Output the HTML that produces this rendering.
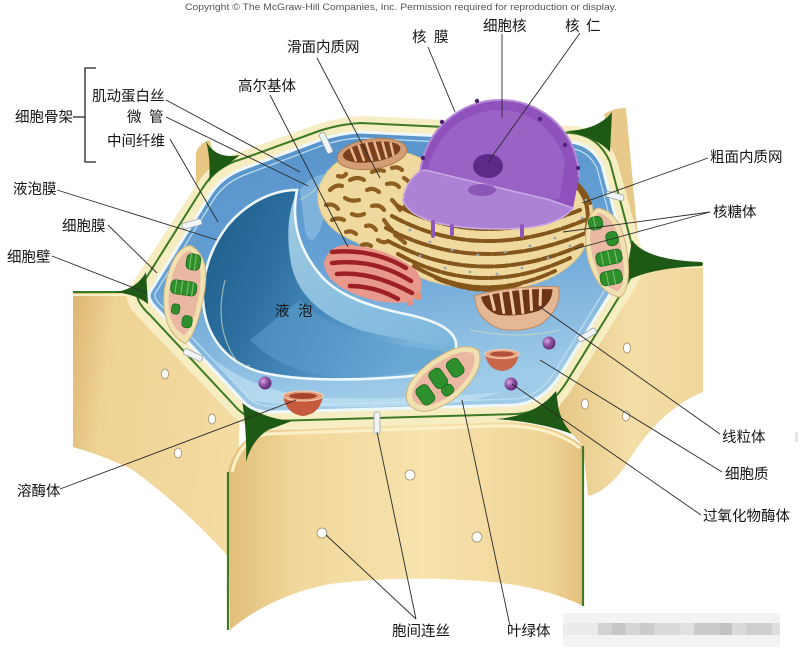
<!DOCTYPE html>
<html><head><meta charset="utf-8">
<style>
html,body{margin:0;padding:0;background:#fff;}
svg{display:block;}
text{font-family:"Liberation Sans","Noto Sans CJK SC",sans-serif;}
.l{font-size:14.5px;fill:#151515;}
.ln{stroke:#2a2a2a;stroke-width:0.9;fill:none;}
.er{fill:none;stroke:#85561c;stroke-width:4;stroke-linecap:round;}
.ser{fill:none;stroke:#8f5f22;stroke-width:4.2;stroke-linecap:round;}
.gol{fill:none;stroke:#9e1f24;stroke-width:4.5;stroke-linecap:round;}
.hole{fill:#fff;stroke:#a08c68;stroke-width:0.8;}
.pd{fill:#f2f5f7;stroke:#9aa6ad;stroke-width:0.8;}
</style></head><body>
<svg width="800" height="664" viewBox="0 0 800 664" xmlns="http://www.w3.org/2000/svg">
<defs>
<linearGradient id="tanF" x1="0" x2="1" y1="0" y2="0">
 <stop offset="0" stop-color="#e2be79"/><stop offset="0.2" stop-color="#f1d89c"/><stop offset="0.55" stop-color="#f7e3ad"/><stop offset="0.9" stop-color="#f0d497"/><stop offset="1" stop-color="#e3c07c"/>
</linearGradient>
<linearGradient id="tanL" x1="0" x2="1" y1="0" y2="0.2">
 <stop offset="0" stop-color="#ddb672"/><stop offset="0.25" stop-color="#efd395"/><stop offset="1" stop-color="#f3dba2"/>
</linearGradient>
<linearGradient id="tanR" x1="0" x2="1">
 <stop offset="0" stop-color="#e6c585"/><stop offset="0.5" stop-color="#f4dea6"/><stop offset="1" stop-color="#f0d79c"/>
</linearGradient>
<linearGradient id="cyto" x1="0" y1="0" x2="0.25" y2="1">
 <stop offset="0" stop-color="#5591c7"/><stop offset="0.5" stop-color="#64a0d4"/><stop offset="1" stop-color="#9fcbe8"/>
</linearGradient>
<linearGradient id="vac" x1="0" y1="0" x2="1" y2="0.35">
 <stop offset="0" stop-color="#1c5a88"/><stop offset="0.35" stop-color="#2c6f9f"/><stop offset="0.7" stop-color="#4f92c3"/><stop offset="1" stop-color="#78b3da"/>
</linearGradient>
<linearGradient id="vacL" x1="0" y1="0" x2="1" y2="1">
 <stop offset="0" stop-color="#bfe2f3"/><stop offset="1" stop-color="#7ab5dc"/>
</linearGradient>
<radialGradient id="per" cx="0.35" cy="0.35" r="0.7">
 <stop offset="0" stop-color="#d6a8e0"/><stop offset="0.5" stop-color="#8e4fa3"/><stop offset="1" stop-color="#5d2a70"/>
</radialGradient>
</defs>

<!-- copyright -->
<text x="185" y="10" font-size="9.6" fill="#555" textLength="432" lengthAdjust="spacingAndGlyphs">Copyright © The McGraw-Hill Companies, Inc. Permission required for reproduction or display.</text>

<!-- right wall -->
<path d="M630,264 L703,264 L703,392 Q658,410 624,468 Q606,492 588,496 L583,446 L555,415 Z" fill="url(#tanR)"/>
<!-- top right strip -->
<path d="M604,114 Q614,108 626,108 L638,238 L624,236 Z" fill="#e9c98a"/>
<!-- top left strip -->
<path d="M196,153 Q199,143 210,140 L218,172 L206,199 L196,201 Z" fill="#e8c684"/>
<!-- left wall -->
<path d="M73,293 L140,293 L240,405 L238,472 L228,474 L228,556 Q182,506 133,470 Q102,455 73,447 Z" fill="url(#tanL)"/>
<!-- front wall -->
<path d="M228,472 Q236,438 265,430 L495,422 Q550,420 583,446 L583,606 Q540,585 480,581 Q400,575 330,584 Q270,596 230,630 Z" fill="url(#tanF)"/>
<path d="M228,472 L228,630" stroke="#3d7a23" stroke-width="2.2"/>
<path d="M583,446 L583,606" stroke="#3d7a23" stroke-width="2.2"/>
<path d="M232,472 Q240,440 266,434 L495,426 Q548,424 580,448" fill="none" stroke="#fbf1c8" stroke-width="3"/>

<!-- wall top cream band -->
<path d="M128,290 L196,185 Q212,160 240,152 L318,124 Q340,117 362,116 L572,126 Q604,128 617,160 L641,248 Q646,270 635,288 L576,382 Q556,421 517,422 L272,429 Q244,431 228,411 L142,321 Q122,302 128,290 Z" fill="#f7edc2"/>
<!-- green lamella line -->
<path d="M138,291 L202,189 Q216,166 242,159 L319,131 Q340,124 361,123 L571,133 Q598,135 610,162 L633,249 Q637,268 627,284 L569,378 Q550,412 516,414 L272,421 Q248,422 234,405 L150,315 Q134,300 138,291 Z" fill="none" stroke="#3b7a22" stroke-width="2"/>
<!-- wall edge green lines -->
<path d="M73,292 L135,292" stroke="#3b7a22" stroke-width="2"/>
<path d="M630,264 L703,264" stroke="#3b7a22" stroke-width="2"/>
<path d="M73,295 L136,295" stroke="#fbf1c8" stroke-width="2"/>
<path d="M632,267 L703,267" stroke="#fbf1c8" stroke-width="2"/>

<!-- green corners -->
<path d="M206,141 Q216,160 240,155 L226,166 Q214,172 209,182 Q211,160 206,141 Z" fill="#1e5a16"/>
<path d="M114,292 Q136,290 146,272 L148,304 Q136,294 114,292 Z" fill="#1e5a16"/>
<path d="M242,400 Q258,418 292,421 L268,430 Q252,440 246,462 Q247,430 242,400 Z" fill="#1e5a16"/>
<path d="M496,419 Q536,416 556,391 L558,405 Q560,420 572,434 Q540,422 496,419 Z" fill="#1e5a16"/>
<path d="M632,240 Q645,260 702,262 L702,266 Q648,268 625,282 Z" fill="#1e5a16"/>
<path d="M566,131 Q598,130 612,112 L610,152 Q598,138 566,131 Z" fill="#1e5a16"/>

<!-- holes -->
<g>
<ellipse class="hole" cx="165" cy="374" rx="3.6" ry="5"/>
<ellipse class="hole" cx="212" cy="419" rx="3.6" ry="5"/>
<ellipse class="hole" cx="178" cy="453" rx="3.6" ry="5"/>
<ellipse class="hole" cx="322" cy="533" rx="5" ry="5"/>
<ellipse class="hole" cx="410" cy="475" rx="5" ry="5"/>
<ellipse class="hole" cx="477" cy="537" rx="5" ry="5"/>
<ellipse class="hole" cx="627" cy="348" rx="3.6" ry="5"/>
<ellipse class="hole" cx="585" cy="404" rx="3.6" ry="5"/>
<ellipse class="hole" cx="626" cy="416" rx="3.6" ry="5"/>
</g>

<!-- cytoplasm -->
<path d="M150,292 L210,195 Q222,176 245,168 L320,140 Q340,133 360,132 L570,142 Q592,144 602,165 L624,250 Q628,265 620,278 L562,372 Q545,402 515,405 L272,412 Q252,413 240,398 L158,310 Q146,298 150,292 Z" fill="url(#cyto)" stroke="#eef7fc" stroke-width="3"/>
<path d="M156,292 L214,199 Q225,182 247,174 L321,146 Q340,139 360,138 L569,148 Q588,150 597,168 L618,250 Q621,263 614,275 L557,368 Q541,397 514,399 L273,406 Q255,407 245,394 L163,307 Q152,298 156,292 Z" fill="none" stroke="#bfe0f2" stroke-width="1.2"/>
<!-- light regions in cytoplasm -->
<path d="M215,360 Q260,395 330,398 Q420,400 500,392 Q470,405 400,406 Q300,410 250,400 Z" fill="#c6e4f4" opacity="0.6"/>
<path d="M300,190 Q315,170 335,175 Q330,200 320,230 Q310,250 305,230 Z" fill="#9ccbea" opacity="0.5"/>

<!-- plasmodesmata -->
<g>
<rect class="pd" x="-3" y="-11" width="6" height="22" rx="2" transform="translate(326,143) rotate(-25)"/>
<rect class="pd" x="-3" y="-10" width="6" height="20" rx="2" transform="translate(192,224) rotate(75)"/>
<rect class="pd" x="-3" y="-10" width="6" height="20" rx="2" transform="translate(193,355) rotate(-65)"/>
<rect class="pd" x="-3" y="-11" width="6" height="22" rx="2" transform="translate(377,423) rotate(0)"/>
<rect class="pd" x="-3" y="-9" width="6" height="18" rx="2" transform="translate(615,196) rotate(-75)"/>
<rect class="pd" x="-3" y="-10" width="6" height="20" rx="2" transform="translate(587,335) rotate(60)"/>
</g>

<!-- vacuole -->
<path d="M297,190 C270,190 245,205 228,225 C210,248 202,275 203,300 C205,335 225,362 260,372 C300,382 360,380 400,377 C430,375 452,365 456,348 C458,332 440,322 410,315 C370,307 335,295 318,272 C302,252 290,225 297,190 Z" fill="url(#vac)"/>
<path d="M297,192 C291,225 302,252 318,272 C335,295 370,307 410,315 C440,322 458,332 456,348 C425,343 390,338 360,330 C325,318 300,298 292,268 C286,240 287,212 297,192 Z" fill="url(#vacL)" opacity="0.8"/>
<path d="M300,300 C330,330 380,345 450,352 C440,370 400,376 350,377 C300,376 270,360 250,340 Z" fill="#5e9fcf" opacity="0.55"/>
<path d="M297,190 C270,190 245,205 228,225 C210,248 202,275 203,300 C205,335 225,362 260,372 C300,382 360,380 400,377 C430,375 452,365 456,348 C458,332 440,322 410,315 C370,307 335,295 318,272 C302,252 290,225 297,190 Z" fill="none" stroke="#eef8fd" stroke-width="2.6"/>

<!-- ER region -->
<path d="M318,192 Q325,162 360,151 Q395,146 420,158 L560,190 Q588,186 592,205 Q596,232 580,255 Q560,280 518,288 Q470,293 430,281 Q405,272 388,256 Q362,246 340,234 Q316,218 318,192 Z" fill="#efd99e" stroke="#e3c78a" stroke-width="1"/>
<!-- smooth ER squiggles -->
<g class="ser">
<path d="M330,190 q6,-6 12,-4"/><path d="M350,180 q8,-4 14,0"/><path d="M372,172 q6,-3 12,-1"/><path d="M392,168 q6,-2 10,2"/>
<path d="M326,205 q8,-2 12,4"/><path d="M345,198 q6,4 14,2"/><path d="M367,190 q6,-3 12,2"/><path d="M387,184 q8,-2 12,3"/><path d="M404,178 q5,3 8,8"/>
<path d="M332,220 q6,-3 12,0"/><path d="M352,214 q6,3 12,0"/><path d="M372,206 q8,-2 12,4"/><path d="M392,200 q4,4 8,10"/>
<path d="M346,232 q6,-2 10,2"/><path d="M366,226 q6,-2 10,4"/><path d="M384,220 q4,6 8,10"/>
<path d="M405,195 q2,6 0,12"/><path d="M395,235 q6,4 10,8"/>
<path d="M338,176 q5,2 8,-2"/><path d="M358,166 q6,2 10,-1"/><path d="M378,240 q4,3 8,2"/><path d="M362,245 q5,-2 9,1"/>
</g>
<!-- rough ER arcs -->
<g class="er" stroke-dasharray="13 3">
<path d="M398,206 Q480,250 580,210"/>
<path d="M392,216 Q480,264 585,220"/>
<path d="M386,228 Q480,278 588,232"/>
<path d="M388,241 Q480,290 582,245"/>
<path d="M398,254 Q480,300 570,258"/>
<path d="M414,266 Q480,306 555,271"/>
<path d="M436,278 Q480,298 520,284"/>
<path d="M578,188 Q592,205 586,232"/>
<path d="M570,178 Q584,188 590,203"/>
</g>
<!-- ribosome dots -->
<g fill="#8fa7b9">
<circle cx="410" cy="230" r="1.4"/><circle cx="430" cy="242" r="1.4"/><circle cx="452" cy="250" r="1.4"/><circle cx="478" cy="255" r="1.4"/><circle cx="505" cy="252" r="1.4"/><circle cx="530" cy="246" r="1.4"/><circle cx="555" cy="238" r="1.4"/>
<circle cx="420" cy="256" r="1.4"/><circle cx="445" cy="268" r="1.4"/><circle cx="470" cy="272" r="1.4"/><circle cx="497" cy="274" r="1.4"/><circle cx="522" cy="268" r="1.4"/><circle cx="548" cy="258" r="1.4"/><circle cx="570" cy="246" r="1.4"/>
<circle cx="440" cy="290" r="1.4"/><circle cx="468" cy="292" r="1.4"/><circle cx="495" cy="292" r="1.4"/><circle cx="520" cy="289" r="1.4"/><circle cx="582" cy="218" r="1.4"/><circle cx="586" cy="200" r="1.4"/>
</g>

<!-- nucleus -->
<path d="M420,174 C424,130 460,100 500,100 C546,100 579,136 579,178 L573,208 L550,200 Z" fill="#8f52bd"/>
<path d="M428,170 C435,135 465,110 500,110 C530,110 555,130 565,160 L560,198 L550,200 Z" fill="#9d66c8" opacity="0.8"/>
<path d="M403,200 C405,185 414,172 425,170 L550,200 L573,208 C562,222 540,229 500,229 C450,229 410,221 403,200 Z" fill="#ab82d4" stroke="#c9a9e6" stroke-width="1.5"/>
<path d="M420,174 C424,130 460,100 500,100 C546,100 579,136 579,178" fill="none" stroke="#b58ad8" stroke-width="2"/>
<ellipse cx="488" cy="166" rx="15" ry="12" fill="#5e2a8a"/>
<ellipse cx="482" cy="190" rx="14" ry="6" fill="#7c45aa" opacity="0.7"/>
<g fill="#4e2273">
<circle cx="423" cy="158" r="2.2"/><circle cx="442" cy="122" r="2.2"/><circle cx="477" cy="101" r="2.2"/><circle cx="540" cy="119" r="2.2"/><circle cx="565" cy="145" r="2.2"/><circle cx="578" cy="168" r="2"/>
</g>
<path d="M433,222 L433,236 M522,226 L522,236 M452,226 L452,234" stroke="#8e58bb" stroke-width="4" stroke-linecap="round"/>

<!-- mitochondrion top -->
<g transform="translate(372,154) rotate(-8)">
<ellipse rx="35" ry="15" fill="#d49e74" stroke="#b37a52" stroke-width="1"/>
<ellipse cx="0" cy="-2" rx="29" ry="10" fill="#7a3f1e"/>
<g stroke="#e7b98c" stroke-width="2.5" stroke-linecap="round">
<path d="M-20,-8 L-17,4"/><path d="M-12,-10 L-9,5"/><path d="M-4,-11 L-1,6"/><path d="M4,-11 L7,6"/><path d="M12,-10 L14,5"/><path d="M20,-8 L21,4"/>
</g>
</g>
<!-- mitochondrion lower right -->
<g transform="translate(518,305) rotate(-6)">
<path d="M-42,-14 Q0,-20 42,-14 Q44,8 20,22 Q0,28 -20,22 Q-44,10 -42,-14 Z" fill="#e4b894" stroke="#c28a62" stroke-width="1"/>
<path d="M-36,-12 Q0,-17 36,-12 Q34,2 20,8 Q0,12 -20,8 Q-34,2 -36,-12 Z" fill="#6d3417"/>
<g stroke="#f0c9a3" stroke-width="3" stroke-linecap="round">
<path d="M-26,-13 L-24,2"/><path d="M-16,-14 L-15,6"/><path d="M-6,-15 L-5,8"/><path d="M4,-15 L4,8"/><path d="M14,-14 L13,6"/><path d="M24,-13 L22,2"/>
</g>
</g>

<!-- golgi -->
<path d="M324,262 Q330,243 352,245 Q392,250 416,270 Q430,290 410,302 Q380,306 350,292 Q324,280 324,262 Z" fill="#e8998b"/>
<g class="gol">
<path d="M332,252 Q372,248 406,268"/>
<path d="M332,263 Q374,258 411,281"/>
<path d="M337,274 Q372,271 412,293"/>
<path d="M350,286 Q375,286 398,299"/>
</g>
<circle cx="418" cy="296" r="4" fill="#e88d7a"/><circle cx="410" cy="303" r="3" fill="#e88d7a"/>

<!-- chloroplast left -->
<g transform="translate(184,293) rotate(8)">
<path d="M0,-48 Q22,-40 20,0 Q18,40 8,50 Q-18,40 -20,0 Q-18,-44 0,-48 Z" fill="#f1e1b0" stroke="#cdb47e" stroke-width="1"/>
<path d="M0,-43 Q16,-36 15,0 Q14,34 6,42 Q-14,34 -15,0 Q-14,-38 0,-43 Z" fill="#eab7a3"/>
<g fill="#2f8f2c" stroke="#1c6a1c" stroke-width="0.8">
<rect x="-2" y="-40" width="14" height="16" rx="5"/>
<rect x="-14" y="-12" width="26" height="14" rx="5"/>
<rect x="-10" y="12" width="8" height="10" rx="3"/>
<rect x="2" y="22" width="10" height="12" rx="4"/>
</g>
<g stroke="#7cc56c" stroke-width="1">
<path d="M2,-40 L2,-24 M7,-40 L7,-24 M-9,-12 L-9,2 M-3,-12 L-3,2 M3,-12 L3,2 M8,-12 L8,2"/>
</g>
</g>
<!-- chloroplast right -->
<g transform="translate(607,253) rotate(-12)">
<path d="M0,-46 Q22,-38 20,0 Q18,38 4,46 Q-18,38 -20,0 Q-18,-40 0,-46 Z" fill="#f1e1b0" stroke="#cdb47e" stroke-width="1"/>
<path d="M0,-41 Q16,-34 15,0 Q14,32 3,40 Q-14,32 -15,0 Q-14,-36 0,-41 Z" fill="#e9b9a4"/>
<g fill="#2f8f2c" stroke="#1c6a1c" stroke-width="0.8">
<rect x="-12" y="-38" width="14" height="13" rx="5"/>
<rect x="2" y="-20" width="12" height="14" rx="5"/>
<rect x="-12" y="-2" width="26" height="14" rx="5"/>
<rect x="-12" y="18" width="22" height="14" rx="5"/>
</g>
<g stroke="#7cc56c" stroke-width="1">
<path d="M-6,-38 L-6,-25 M-6,-2 L-6,12 M1,-2 L1,12 M8,-2 L8,12 M-5,18 L-5,32 M2,18 L2,32"/>
</g>
</g>
<!-- chloroplast bottom -->
<g transform="translate(443,380) rotate(-35)">
<path d="M-42,0 Q-40,-20 0,-22 Q40,-22 46,-4 Q42,16 0,22 Q-40,22 -42,0 Z" fill="#f1e1b0" stroke="#cdb47e" stroke-width="1"/>
<path d="M-36,0 Q-34,-15 0,-17 Q34,-17 40,-4 Q36,12 0,17 Q-34,17 -36,0 Z" fill="#eab7a3"/>
<g fill="#2f8f2c" stroke="#1c6a1c" stroke-width="0.8">
<rect x="-30" y="-8" width="14" height="20" rx="5"/>
<rect x="-10" y="-14" width="14" height="20" rx="5"/>
<rect x="10" y="-12" width="14" height="18" rx="5"/>
<rect x="-8" y="6" width="12" height="10" rx="4"/>
</g>
</g>

<!-- lysosomes -->
<g>
<path d="M283,396 Q303,392 323,396 Q320,414 303,416 Q286,414 283,396 Z" fill="#c65a3c"/>
<ellipse cx="303" cy="396" rx="20" ry="5" fill="#e59c78" stroke="#f6d0b8" stroke-width="1"/>
<ellipse cx="303" cy="396" rx="14" ry="3" fill="#a9442c"/>
<path d="M485,354 Q502,350 519,354 Q516,370 502,371 Q488,370 485,354 Z" fill="#c8664a"/>
<ellipse cx="502" cy="354" rx="17" ry="4.5" fill="#e8a582" stroke="#f6d0b8" stroke-width="1"/>
<ellipse cx="502" cy="354" rx="12" ry="2.6" fill="#b0503a"/>
</g>
<!-- peroxisomes -->
<circle cx="265" cy="383" r="6.5" fill="url(#per)"/>
<circle cx="549" cy="343" r="6.5" fill="url(#per)"/>
<circle cx="511" cy="384" r="6.5" fill="url(#per)"/>

<!-- faint fibers -->
<g fill="none" stroke="#c9d9c0" stroke-width="1.2" opacity="0.7">
<path d="M225,280 Q215,320 230,350 Q240,370 250,365"/>
<path d="M470,330 Q520,340 560,330"/>
<path d="M300,200 Q320,190 328,170"/>
</g>

<!-- leader lines -->
<g class="ln">
<path d="M317,58 L380,178"/>
<path d="M270,95 L348,247"/>
<path d="M166,100 L300,172"/>
<path d="M166,117 L308,186"/>
<path d="M170,139 L218,222"/>
<path d="M57,190 L217,240"/>
<path d="M108,225 L157,273"/>
<path d="M52,256 L147,293"/>
<path d="M428,47 L455,112"/>
<path d="M502,34 L502,118"/>
<path d="M580,33 L488,162"/>
<path d="M708,158 L582,203"/>
<path d="M710,212 L563,232"/>
<path d="M710,212 L575,249"/>
<path d="M720,434 L540,307"/>
<path d="M722,472 L540,360"/>
<path d="M701,515 L512,384"/>
<path d="M510,626 L462,400"/>
<path d="M416,619 L377,432"/>
<path d="M416,619 L326,535"/>
<path d="M60,489 L296,400"/>
</g>
<!-- bracket -->
<path d="M96,68 L85,68 L85,162 L96,162 M73,117 L85,117" fill="none" stroke="#222" stroke-width="1.3"/>

<!-- labels -->
<g class="l">
<text x="287" y="52">滑面内质网</text>
<text x="238" y="91">高尔基体</text>
<text x="92" y="101">肌动蛋白丝</text>
<text x="127" y="122">微</text><text x="149" y="122">管</text>
<text x="107" y="146">中间纤维</text>
<text x="15" y="122">细胞骨架</text>
<text x="13" y="194">液泡膜</text>
<text x="62" y="231">细胞膜</text>
<text x="7" y="262">细胞壁</text>
<text x="275" y="316">液</text><text x="298" y="316">泡</text>
<text x="412" y="42">核</text><text x="434" y="42">膜</text>
<text x="483" y="31">细胞核</text>
<text x="565" y="31">核</text><text x="586" y="31">仁</text>
<text x="710" y="162">粗面内质网</text>
<text x="713" y="217">核糖体</text>
<text x="722" y="442">线粒体</text>
<text x="725" y="479">细胞质</text>
<text x="703" y="521">过氧化物酶体</text>
<text x="507" y="636">叶绿体</text>
<text x="392" y="636">胞间连丝</text>
<text x="17" y="496">溶酶体</text>
</g>

<!-- blurred watermark -->
<g>
<rect x="563" y="613" width="217" height="34" fill="#f3f3f3"/>
<rect x="598" y="623" width="14" height="12" fill="#d2d2d2"/>
<rect x="612" y="623" width="14" height="12" fill="#c6c6c6"/>
<rect x="626" y="623" width="14" height="12" fill="#d6d6d6"/>
<rect x="640" y="623" width="14" height="12" fill="#cbcbcb"/>
<rect x="654" y="623" width="26" height="12" fill="#d9d9d9"/>
<rect x="680" y="623" width="14" height="12" fill="#e1e1e1"/>
<rect x="694" y="623" width="26" height="12" fill="#cacaca"/>
<rect x="720" y="623" width="12" height="12" fill="#c2c2c2"/>
<rect x="732" y="623" width="14" height="12" fill="#dadada"/>
<rect x="746" y="623" width="26" height="12" fill="#cfcfcf"/>
<rect x="772" y="623" width="8" height="12" fill="#dedede"/>
<rect x="563" y="623" width="35" height="12" fill="#ebebeb"/>
</g>
<rect x="795" y="432" width="3" height="10" fill="#e4e4e4"/>
</svg>
</body></html>
